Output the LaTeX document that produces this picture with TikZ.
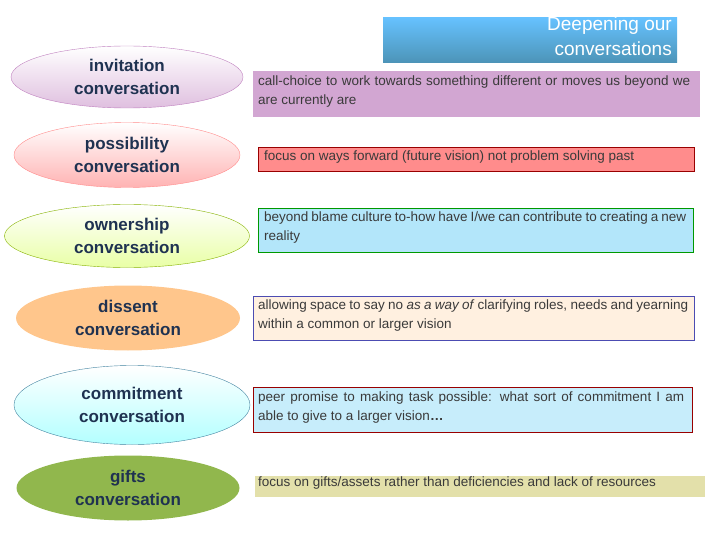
\documentclass[tikz,border=0pt]{standalone}
\usepackage{fontspec}
\setmainfont{Liberation Sans}
\usepackage{tikz}
\usetikzlibrary{shapes,arrows}

\definecolor{navy}{HTML}{1F3251}
\definecolor{bodytext}{HTML}{3A3A3A}

\begin{document}
\begin{tikzpicture}[x=1pt, y=-1pt,
  conv/.style={draw, ellipse, inner sep=0pt, align=center, text=navy,
    font=\bfseries\fontsize{17}{23}\selectfont},
  desc/.style={anchor=north west, inner sep=0pt, align=justify, text=bodytext,
    font=\fontsize{13.5}{19}\selectfont},
  band/.style={draw, inner sep=0pt}]
  \useasboundingbox (0,0) rectangle (720,540);

  % Title
  \node[band, draw=none, top color=cyan!60!blue!60, bottom color=teal!80!blue!70,
        minimum width=294, minimum height=45] (title) at (530,40) {};
  \node[anchor=north east, align=right, text=white, inner sep=0pt,
        font=\fontsize{19}{25}\selectfont] (titletext) at (672,17) {Deepening our\\conversations};

  % Conversations
  \node[conv, draw=violet!50, top color=white, bottom color=violet!25,
        minimum width=232, minimum height=62] (invite) at (127,77) {invitation\\conversation};
  \node[conv, draw=red!45, top color=white, bottom color=red!30,
        minimum width=226, minimum height=65] (possible) at (127,155) {possibility\\conversation};
  \node[conv, draw=lime!70!black, top color=white, bottom color=lime!35,
        minimum width=245, minimum height=63] (own) at (127,236) {ownership\\conversation};
  \node[conv, draw=none, fill=orange!45!white,
        minimum width=224, minimum height=65] (dissent) at (128,318) {dissent\\conversation};
  \node[conv, draw=cyan!60!black, top color=white, bottom color=cyan!30,
        minimum width=236, minimum height=79] (commit) at (132,405) {commitment\\conversation};
  \node[conv, draw=none, fill=olive!55!green!70,
        minimum width=223, minimum height=65] (gifts) at (128,488) {gifts\\conversation};

  % Description bands
  \node[band, draw=none, fill=violet!35!white, minimum width=447, minimum height=46] (b1) at (476.5,94) {};
  \node[band, draw=red!60!black, fill=red!45!white, minimum width=436, minimum height=24] (b2) at (476,159) {};
  \node[band, draw=green!60!black, fill=cyan!30!white, minimum width=435, minimum height=44] (b3) at (475.5,230) {};
  \node[band, draw=blue!40!gray, fill=orange!12!white, minimum width=441, minimum height=44] (b4) at (473.5,318) {};
  \node[band, draw=red!60!black, fill=cyan!22!white, minimum width=439, minimum height=45] (b5) at (472.5,409.5) {};
  \node[band, draw=none, fill=olive!25!white, minimum width=450, minimum height=21] (b6) at (480,486.5) {};

  % Descriptions
  \node[desc, text width=432] (d1) at (258,76) {call-choice to work towards something different or moves us beyond we are currently are};
  \node[desc, text width=422] (d2) at (264,151) {focus on ways forward (future vision) not problem solving past};
  \node[desc, text width=422] (d3) at (264,212) {beyond blame culture to-how have I/we can contribute to creating a new reality};
  \node[desc, text width=430] (d4) at (258,300) {allowing space to say no \textit{as a way of} clarifying roles, needs and yearning within a common or larger vision};
  \node[desc, text width=426] (d5) at (258,392) {peer promise to making task possible: what sort of commitment I am able to give to a larger vision\textbf{\dots}};
  \node[desc, text width=446] (d6) at (258,477) {focus on gifts/assets rather than deficiencies and lack of resources};
\end{tikzpicture}
\end{document}
